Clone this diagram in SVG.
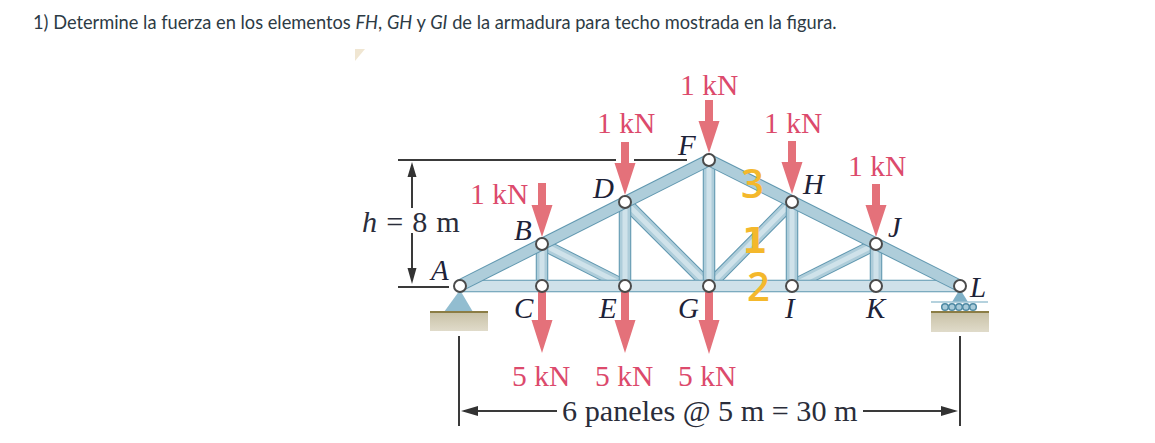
<svg xmlns="http://www.w3.org/2000/svg" width="1155" height="443" viewBox="0 0 1155 443">
<defs>
<linearGradient id="gr" x1="0" y1="0" x2="0" y2="1"><stop offset="0" stop-color="#c8c1a6"/><stop offset="1" stop-color="#e0dbca"/></linearGradient>
<filter id="soft" x="-5%" y="-5%" width="110%" height="110%"><feGaussianBlur stdDeviation="0.6"/></filter>
<path id="diag" d="M542 244L625 286M625 202L709 286M792 202L709 286M876 244L792 286"/>
<path id="vert" d="M542 244V286M625 202V286M709 160V286M792 202V286M876 244V286"/>
<path id="bot" d="M459 286H960"/>
<path id="top" d="M459 286L709 160L960 286"/>
</defs>
<style>
.t{font-family:"Lato","Noto Sans",sans-serif;font-size:18.25px;fill:#2d3b45}
.s{font-family:"Liberation Serif","DejaVu Serif",serif}
.k{font-size:29.5px;fill:#dc4a6c}
.d{font-size:30.2px;fill:#2a2d3a}
.n{font-size:29px;font-style:italic;fill:#1d2238}
.y{font-family:"Open Sans",sans-serif;font-weight:600;font-size:40px;fill:#f4b82c}
.y1{font-family:"DejaVu Sans",sans-serif;font-weight:700;font-size:36px;fill:#f4b82c}
.e{stroke:#6198b0;stroke-width:12.5;fill:none}
.m{stroke:#aecdda;stroke-width:10.4;fill:none}
.c{stroke:#cfe2ea;stroke-width:5;fill:none}
.b{stroke:#cfe1e9;stroke-width:10.4;fill:none}
.p{fill:#fff;stroke:#4a4a4a;stroke-width:2}
.l{stroke:#3a3a3a;stroke-width:2;fill:none}
.a{fill:#e4717a}
.h{fill:#333}
.g{fill:url(#gr)}
</style>
<text class="t" x="33" y="29">1) Determine la fuerza en los elementos <tspan font-style="italic">FH</tspan>, <tspan font-style="italic">GH</tspan> y <tspan font-style="italic">GI</tspan> de la armadura para techo mostrada en la figura.</text>
<path d="M355 49H365L355 61Z" fill="#f0e6d2"/>
<g id="supports" filter="url(#soft)">
<path d="M460 290L444 312H473Z" fill="#92bdd0"/>
<rect class="g" x="430" y="312" width="58" height="19"/><path d="M430 312H488" stroke="#8b7d45" stroke-width="2"/>
<rect class="g" x="931" y="312" width="58" height="20"/><path d="M931 312H989" stroke="#8b7d45" stroke-width="2"/>
<path d="M960 289L952 302H968Z" fill="#7fb0c6"/>
<path d="M931 302H988" stroke="#9cc3d3" stroke-width="1.5"/>
<g fill="#a9cbd9" stroke="#4f8aa4" stroke-width="1.5"><circle cx="945" cy="307" r="3.3"/><circle cx="952" cy="307" r="3.3"/><circle cx="959" cy="307" r="3.3"/><circle cx="966" cy="307" r="3.3"/><circle cx="973" cy="307" r="3.3"/></g>
</g>
<g id="connectors">
<g filter="url(#soft)">
<use href="#diag" class="e"/><use href="#diag" class="m"/><use href="#diag" class="c"/>
<use href="#vert" class="e"/><use href="#vert" class="m"/><use href="#vert" class="c"/>
<use href="#bot" class="e"/><use href="#bot" class="b"/>
<use href="#top" class="e"/><use href="#top" class="m"/>
</g>
<path class="l" d="M398 160H616M634 160H687M398 287H449"/>
<path class="l" stroke-width="1.5" d="M412 165V208M412 233V280"/>
<path class="h" d="M412 162L407.500 177H416.500ZM412 284L407.500 268H416.500Z"/>
<path class="l" d="M459 336V426M960 336V426M464 411H557M863 411H955"/>
<path class="h" d="M461 411L478 406V416ZM958 411L941 406V416Z"/>
<g class="a">
<path d="M538 183H546V205H552.500L542 237L531.500 205H538Z"/>
<path d="M621 142H629V163H635.500L625 195L614.500 163H621Z"/>
<path d="M705 100H713V121H719.500L709 153L698.500 121H705Z"/>
<path d="M788 141H796V162H802.500L792 194L781.500 162H788Z"/>
<path d="M872 184H880V205H886.500L876 237L865.500 205H872Z"/>
<path d="M538 292H546V320H552.500L542 353L531.500 320H538Z"/>
<path d="M621 292H629V320H635.500L625 353L614.500 320H621Z"/>
<path d="M705 292H713V320H719.500L709 354L698.500 320H705Z"/>
</g>
</g>
<g id="node-A"><circle class="p" cx="460" cy="286" r="6"/><text class="s n" x="431" y="280">A</text></g>
<g id="node-B"><circle class="p" cx="542" cy="244" r="6"/><text class="s n" x="514" y="240">B</text></g>
<g id="node-C"><circle class="p" cx="542" cy="286" r="6"/><text class="s n" x="514" y="318">C</text></g>
<g id="node-D"><circle class="p" cx="625" cy="202" r="6"/><text class="s n" x="593" y="198">D</text></g>
<g id="node-E"><circle class="p" cx="625" cy="286" r="6"/><text class="s n" x="599" y="318">E</text></g>
<g id="node-F"><circle class="p" cx="709" cy="160" r="6"/><text class="s n" x="678" y="155">F</text></g>
<g id="node-G"><circle class="p" cx="709" cy="286" r="6"/><text class="s n" x="678" y="318">G</text></g>
<g id="node-H"><circle class="p" cx="792" cy="202" r="6"/><text class="s n" x="803" y="194">H</text></g>
<g id="node-I"><circle class="p" cx="792" cy="286" r="6"/><text class="s n" x="785" y="318">I</text></g>
<g id="node-J"><circle class="p" cx="876" cy="244" r="6"/><text class="s n" x="888" y="237">J</text></g>
<g id="node-K"><circle class="p" cx="876" cy="286" r="6"/><text class="s n" x="866" y="318">K</text></g>
<g id="node-L"><circle class="p" cx="960" cy="286" r="6"/><text class="s n" x="970" y="297">L</text></g>
<g id="labels">
<text class="s k" x="470" y="204">1 kN</text>
<text class="s k" x="597" y="133">1 kN</text>
<text class="s k" x="680" y="95">1 kN</text>
<text class="s k" x="764" y="133">1 kN</text>
<text class="s k" x="848" y="176">1 kN</text>
<text class="s k" x="512" y="386">5 kN</text>
<text class="s k" x="595" y="386">5 kN</text>
<text class="s k" x="678" y="386">5 kN</text>
<text class="s d" x="362" y="232" word-spacing="1.500"><tspan font-style="italic">h</tspan> = 8 m</text>
<text class="s d" x="562" y="421">6 paneles @ 5 m = 30 m</text>
<text class="y" x="741" y="198">3</text>
<text class="y1" x="742" y="253">1</text>
<text class="y" x="747" y="301" font-size="36">2</text>
</g>
</svg>
